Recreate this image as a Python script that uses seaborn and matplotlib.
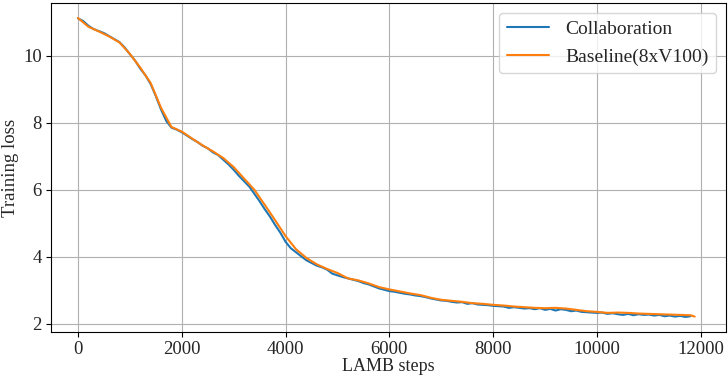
import numpy as np
import pandas as pd
import matplotlib
matplotlib.use("Agg")
import matplotlib.pyplot as plt
import seaborn as sns

# ────────────────────────────────────────────────
# Données
# ────────────────────────────────────────────────
collab_steps = list(range(0, 11801, 100))
collab_loss = [
    11.12, 11.04, 10.90, 10.80, 10.74, 10.68, 10.59, 10.50, 10.41, 10.25,
    10.05, 9.86, 9.62, 9.42, 9.16, 8.80, 8.40, 8.06, 7.86, 7.80,
    7.72, 7.62, 7.52, 7.43, 7.32, 7.24, 7.12, 7.04, 6.90, 6.76,
    6.60, 6.42, 6.26, 6.10, 5.88, 5.66, 5.42, 5.20, 4.95, 4.72,
    4.45, 4.26, 4.14, 4.02, 3.90, 3.82, 3.74, 3.69, 3.62, 3.50,
    3.45, 3.40, 3.36, 3.32, 3.28, 3.22, 3.18, 3.12, 3.06, 3.02,
    2.98, 2.96, 2.93, 2.90, 2.88, 2.85, 2.83, 2.80, 2.76, 2.73,
    2.70, 2.69, 2.66, 2.64, 2.65, 2.60, 2.62, 2.58, 2.57, 2.56,
    2.54, 2.53, 2.52, 2.48, 2.50, 2.48, 2.46, 2.47, 2.44, 2.47,
    2.42, 2.45, 2.40, 2.44, 2.42, 2.38, 2.40, 2.36, 2.35, 2.34,
    2.33, 2.34, 2.30, 2.32, 2.29, 2.27, 2.30, 2.26, 2.29, 2.27,
    2.28, 2.25, 2.27, 2.23, 2.25, 2.22, 2.24, 2.21, 2.23,
]

baseline_steps = list(range(0, 11801, 200)) + [11880]
baseline_loss = [
    11.13, 10.87, 10.73, 10.58, 10.40, 10.06, 9.65, 9.19, 8.45, 7.88,
    7.74, 7.53, 7.33, 7.15, 6.95, 6.68, 6.34, 6.00, 5.55, 5.09,
    4.62, 4.23, 3.97, 3.78, 3.64, 3.52, 3.36, 3.30, 3.21, 3.10,
    3.03, 2.97, 2.91, 2.86, 2.78, 2.72, 2.69, 2.66, 2.62, 2.60,
    2.57, 2.55, 2.52, 2.50, 2.48, 2.47, 2.48, 2.46, 2.42, 2.38,
    2.36, 2.33, 2.34, 2.33, 2.31, 2.30, 2.29, 2.28, 2.27, 2.26,
    2.22,
]

df_collab = pd.DataFrame({"step": collab_steps, "loss": collab_loss})
df_base = pd.DataFrame({"step": baseline_steps, "loss": baseline_loss})

# ────────────────────────────────────────────────
# Style
# ────────────────────────────────────────────────
sns.set_style("whitegrid", {"axes.edgecolor": "black", "grid.color": "#b0b0b0",
                            "xtick.bottom": True, "ytick.left": True})
plt.rcParams['font.family'] = ['Liberation Serif', 'DejaVu Serif']
plt.rcParams['font.size'] = 13

fig, ax = plt.subplots(figsize=(7.28, 3.81), dpi=100)
fig.subplots_adjust(left=0.070, right=0.997, top=0.992, bottom=0.129)

sns.lineplot(data=df_collab, x="step", y="loss", ax=ax, color="#1f77b4",
             linewidth=1.5, label="Collaboration")
sns.lineplot(data=df_base, x="step", y="loss", ax=ax, color="#ff7f0e",
             linewidth=1.5, label="Baseline(8xV100)")

ax.set_xlim(-520, 12480)
ax.set_xlabel("LAMB steps", fontsize=13, labelpad=0)
ax.set_ylabel("Training loss", fontsize=13.5, labelpad=3)
ax.set_xticks([0, 2000, 4000, 6000, 8000, 10000, 12000])
ax.set_yticks([2, 4, 6, 8, 10])
ax.tick_params(labelsize=13.5, length=3.5, width=0.8, color="black", pad=3)
ax.grid(True, color="#b0b0b0", linewidth=0.8)
for s in ax.spines.values():
    s.set_color("black")
    s.set_linewidth(0.8)

ax.legend(loc="upper right", fontsize=14, handlelength=2.2, frameon=True)

fig.savefig("out.png", dpi=100)
